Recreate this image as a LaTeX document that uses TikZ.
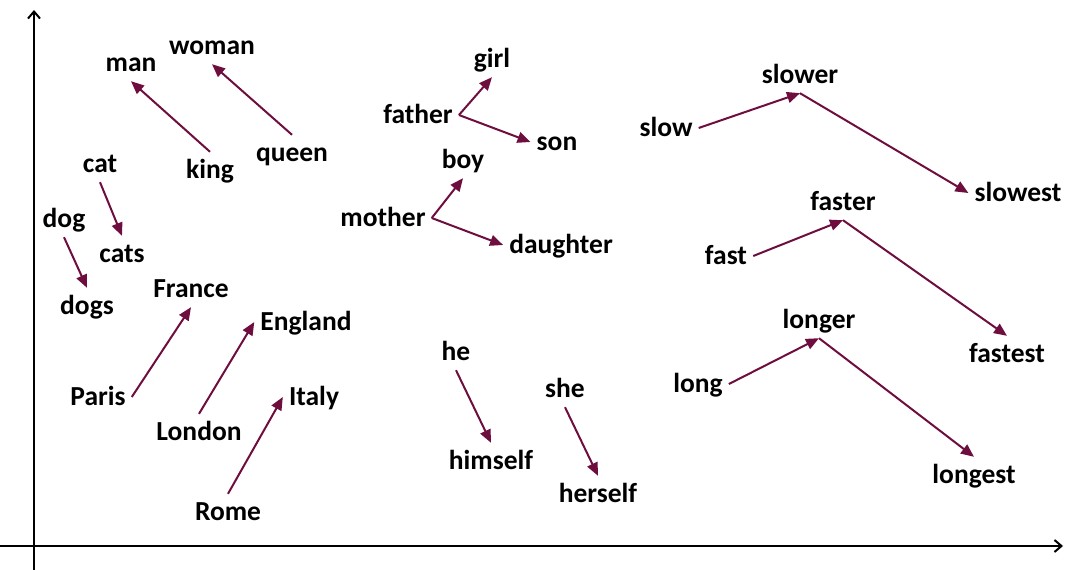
\documentclass[tikz,border=0pt]{standalone}
\usepackage{fontspec}
\setmainfont{Carlito}
\usetikzlibrary{arrows.meta}
\definecolor{wine}{RGB}{110,14,62}
\tikzset{
    word/.style={rectangle,inner sep=6pt,text height=20.5pt,text depth=3.5pt,font=\bfseries\fontsize{27.5}{32}\selectfont},
    vec/.style={draw=wine,line width=2pt,-{Triangle[length=13pt,width=11pt]}},
    axis/.style={draw=black,line width=2pt,-{Straight Barb[length=7pt,width=12pt]}},
}

\begin{document}
\begin{tikzpicture}[x=1pt,y=-1pt]
\useasboundingbox (0,0) rectangle (1080,570);
% axes
\coordinate (ybot) at (34,570);
\coordinate (ytop) at (34,10);
\coordinate (xleft) at (0,546);
\coordinate (xright) at (1063,546);
\draw[axis] (ybot) -- (ytop);
\draw[axis] (xleft) -- (xright);
% gender, plural, capitals
\node[word](man) at (131,63) {man};
\node[word](woman) at (212,46) {woman};
\node[word](king) at (210,170) {king};
\node[word](queen) at (292,153) {queen};
\node[word](cat) at (100,164) {cat};
\node[word](dog) at (64,219) {dog};
\node[word](cats) at (122,254) {cats};
\node[word](dogs) at (87,306) {dogs};
\node[word](France) at (191,289) {France};
\node[word](England) at (306,322) {England};
\node[word](Paris) at (98,397) {Paris};
\node[word](London) at (199,432) {London};
\node[word](Italy) at (314,397) {Italy};
\node[word](Rome) at (228,512) {Rome};
\draw[vec] (king.north) -- (man.south);
\draw[vec] (queen.north) -- (woman.south);
\draw[vec] (cat.south) -- (cats.north);
\draw[vec] (dog.south) -- (dogs.north);
\draw[vec] (Paris.east) -- (France.south);
\draw[vec] (London.north) -- (England.west);
\draw[vec] (Rome.north) -- (Italy.west);
% family, pronouns
\node[word](girl) at (492,59) {girl};
\node[word](father) at (418,115) {father};
\node[word](son) at (557,142) {son};
\node[word](boy) at (463,160) {boy};
\node[word](mother) at (383,218) {mother};
\node[word](daughter) at (561,245) {daughter};
\node[word](he) at (456,352) {he};
\node[word](himself) at (491,461) {himself};
\node[word](she) at (565,389) {she};
\node[word](herself) at (598,494) {herself};
\draw[vec] (father.east) -- (girl.south);
\draw[vec] (father.east) -- (son.west);
\draw[vec] (mother.east) -- (boy.south);
\draw[vec] (mother.east) -- (daughter.west);
\draw[vec] (he.south) -- (himself.north);
\draw[vec] (she.south) -- (herself.north);
% comparatives
\node[word](slow) at (666,128) {slow};
\node[word](slower) at (800,75) {slower};
\node[word](slowest) at (1018,193) {slowest};
\node[word](fast) at (726,256) {fast};
\node[word](faster) at (843,202) {faster};
\node[word](fastest) at (1007,354) {fastest};
\node[word](long) at (698,384) {long};
\node[word](longer) at (819,320) {longer};
\node[word](longest) at (974,475) {longest};
\draw[vec] (slow.east) -- (slower.south);
\draw[vec] (slower.south) -- (slowest.west);
\draw[vec] (fast.east) -- (faster.south);
\draw[vec] (faster.south) -- (fastest.north);
\draw[vec] (long.east) -- (longer.south);
\draw[vec] (longer.south) -- (longest.north);
\end{tikzpicture}
\end{document}
